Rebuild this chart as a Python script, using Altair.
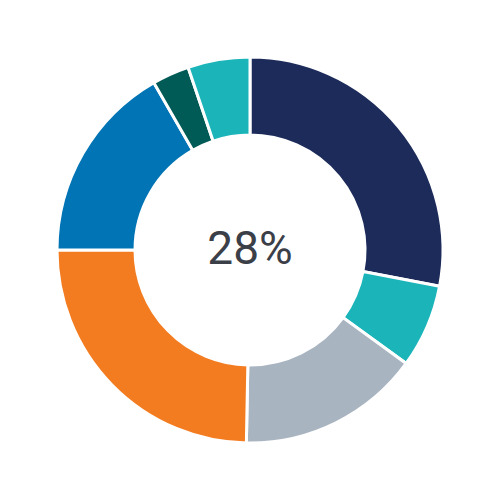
import altair as alt
import pandas as pd

segments = ["A", "B", "C", "D", "E", "F", "G"]
shares = [28, 7, 15.3, 24.7, 16.7, 3.1, 5.2]
colors = ["#1c2b5a", "#1bb5b9", "#a9b4c1", "#f47c20", "#0074b4", "#005a55", "#1bb5b9"]
center_label = "28%"

df = pd.DataFrame({"segment": segments, "share": shares, "order": list(range(len(segments)))})

arcs = (
    alt.Chart(df)
    .mark_arc(innerRadius=115, outerRadius=193, stroke="white", strokeWidth=3)
    .encode(
        theta=alt.Theta("share:Q", stack=True),
        order=alt.Order("order:Q"),
        color=alt.Color(
            "segment:N",
            scale=alt.Scale(domain=segments, range=colors),
            legend=None,
        ),
    )
)

label = (
    alt.Chart(pd.DataFrame({"t": [center_label]}))
    .mark_text(fontSize=46, font="Roboto", color="#3b4048", baseline="middle", align="center")
    .encode(text="t:N")
)

chart = (
    alt.layer(arcs, label)
    .properties(width=484, height=484, autosize=alt.AutoSizeParams(type="fit", contains="padding"), padding=0)
    .configure_view(stroke=None)
)

chart.save("out.html", embed_options={"renderer": "svg", "actions": False})
